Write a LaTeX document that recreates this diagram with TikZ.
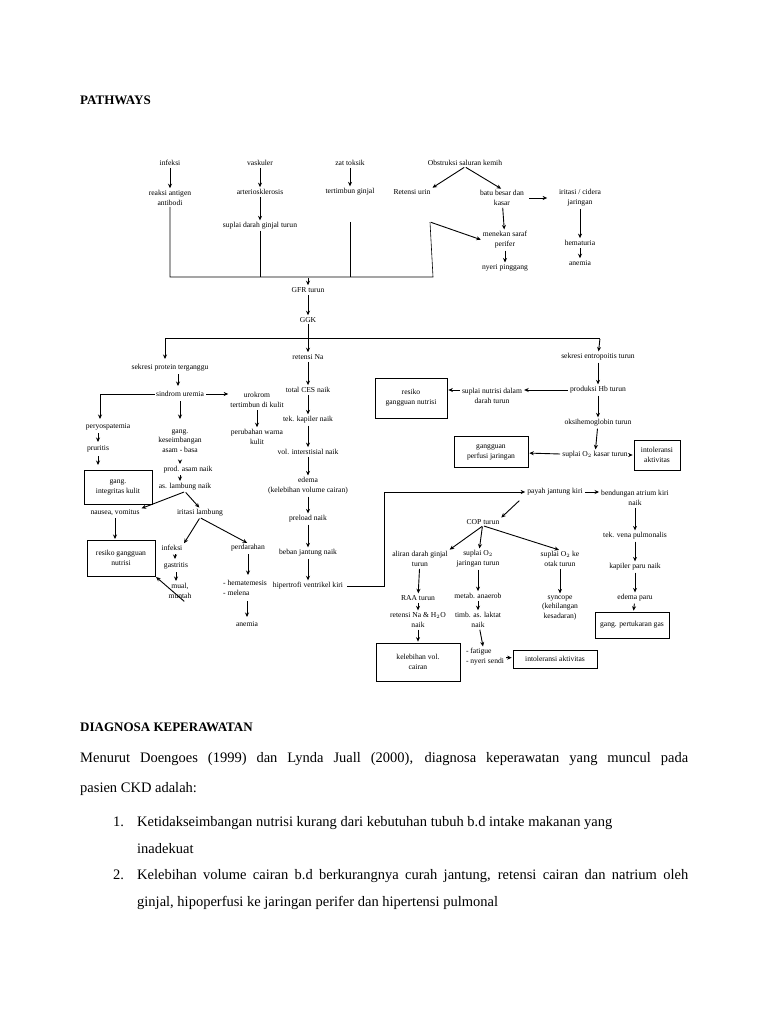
\documentclass[tikz,border=0pt]{standalone}
\usepackage{fontspec}
\setmainfont{Liberation Serif}
\usetikzlibrary{arrows.meta}
\begin{document}
\begin{tikzpicture}[x=1pt,y=-1pt,
 t/.style={font=\fontsize{7.6}{9.8}\selectfont, align=center, inner sep=1pt},
 bx/.style={t, draw, line width=0.7pt, inner sep=3pt},
 ar/.style={-{Stealth[length=4.5pt,width=4pt]}, line width=0.9pt, shorten >=1pt, shorten <=1pt},
 ln/.style={line width=0.6pt},
 body/.style={font=\fontsize{14.5}{30.5}\selectfont, inner sep=0pt, anchor=base west}]
\useasboundingbox (0,0) rectangle (768,1024);
\fill[white] (0,0) rectangle (768,1024);
\node[body,font=\fontsize{13}{15}\selectfont\bfseries] (ttl) at (80,105) {PATHWAYS};
% top row
\node[t] (inf) at (170,163) {infeksi};
\node[t] (vas) at (260,163) {vaskuler};
\node[t] (zat) at (350,163) {zat toksik};
\node[t] (obs) at (465,163) {Obstruksi saluran kemih};
\node[t] (rea) at (170,198) {reaksi antigen\\antibodi};
\node[t] (art) at (260,192) {arteriosklerosis};
\node[t] (ter) at (350,192) {tertimbun ginjal};
\node[t] (ret) at (412,192) {Retensi urin};
\node[t] (bat) at (502,198) {batu besar dan\\kasar};
\node[t] (iri) at (580,198) {iritasi / cidera\\jaringan};
\node[t] (sup) at (260,226) {suplai darah ginjal turun};
\node[t] (men) at (505,240) {menekan saraf\\perifer};
\node[t] (nye) at (505,268) {nyeri pinggang};
\node[t] (hem) at (580,243) {hematuria};
\node[t] (ane) at (580,263) {anemia};
\draw[ar] (inf) -- (rea); \draw[ar] (vas) -- (art); \draw[ar] (art) -- (sup);
\draw[ar] (zat) -- (ter);
\draw[ar] (obs.south) -- (ret.north east); \draw[ar] (obs.south) -- (bat.north);
\draw[ar] (bat.east) ++(3,0) -- +(20,0);
\draw[ar] (bat) -- (men); \draw[ar] (men) -- (nye);
\draw[ar] (iri) -- (hem); \draw[ar] (hem) -- (ane);
\coordinate (ra) at (430,222); \draw[ar] (ra) -- (men.west);
\coordinate (busL) at (170,277); \coordinate (busR) at (433,277); \coordinate (busM) at (308,277);
\draw[ln] (rea.south) -- (busL) -- (busR) -- (ra);
\draw[ln] (sup.south) -- (260,277);
\draw[ln] (350,222) -- (350,277);
\node[t] (gfr) at (308,290) {GFR turun};
\node[t] (ggk) at (308,320) {GGK};
\draw[ar] (busM) -- (gfr); \draw[ar] (gfr) -- (ggk);
\coordinate (b3) at (308,338);
\draw[ln] (ggk) -- (b3);
\draw[ln] (165,338) -- (600,338);
% left branch
\node[t] (sek) at (170,368) {sekresi protein terganggu};
\node[t] (sin) at (180,394) {sindrom uremia};
\node[t] (uro) at (257,400) {urokrom\\tertimbun di kulit};
\node[t] (per) at (257,437) {perubahan warna\\kulit};
\node[t] (pery) at (108,427) {peryospatemia};
\node[t] (pru) at (98,449) {pruritis};
\node[t] (kes) at (180,441) {gang.\\keseimbangan\\asam - basa};
\node[t] (pro) at (188,470) {prod. asam naik};
\node[t] (asl) at (185,487) {as. lambung naik};
\node[bx, minimum width=68pt, minimum height=34pt] (gik) at (118,487) {gang.\\integritas kulit};
\node[t] (nau) at (115,513) {nausea, vomitus};
\node[t] (irl) at (200,513) {iritasi lambung};
\node[bx, minimum width=68pt, minimum height=36pt] (rgn) at (121,558) {resiko gangguan\\nutrisi};
\node[t] (inf2) at (172,548) {infeksi};
\node[t] (gas) at (176,566) {gastritis};
\node[t] (mua) at (180,591) {mual,\\muntah};
\node[t] (prd) at (248,548) {perdarahan};
\node[t,align=left] (hmt) at (245,588) {- hematemesis\\- melena};
\node[t] (an2) at (247,624) {anemia};
\draw[ar] (165,338) -- (165,360);
\draw[ar] (178,373) -- (178,387); \draw[ar] (sin) -- (uro.west|-sin); \draw[ar] (uro) -- (per);
\draw[ln] (sin.west) -- (100,394); \draw[ar] (100,394) -- (100,420);
\draw[ar] (98,432) -- (98,443); \draw[ar] (98,455) -- (98,466);
\draw[ar] (180,400) -- (180,420); \draw[ar] (180,460) -- (180,465); \draw[ar] (180,474) -- (180,482);
\draw[ar] (asl.south) -- (nau.north east); \draw[ar] (asl.south) -- (irl.north);
\draw[ar] (nau) -- (115,540);
\draw[ar] (irl.south) -- (inf2.north east); \draw[ar] (irl.south) -- (prd.north);
\draw[ar] (175,553) -- (175,560); \draw[ar] (176,571) -- (176,582);
\draw[ar] (248,553) -- (248,576); \draw[ar] (247,600) -- (247,618);
\coordinate (mu) at (185,602); \draw[ar] (mu) -- (rgn.south east);
% middle branch
\node[t] (rna) at (308,357) {retensi Na};
\node[t] (ces) at (308,390) {total CES naik};
\node[t] (tek) at (308,420) {tek. kapiler naik};
\node[t] (vol) at (308,452) {vol. interstisial naik};
\node[t] (ede) at (308,486) {edema\\(kelebihan volume cairan)};
\node[t] (pre) at (308,519) {preload naik};
\node[t] (beb) at (308,553) {beban jantung naik};
\node[t] (hip) at (308,586) {hipertrofi ventrikel kiri};
\draw[ar] (b3) -- (rna); \draw[ar] (rna) -- (ces); \draw[ar] (ces) -- (tek);
\draw[ar] (tek) -- (vol); \draw[ar] (vol) -- (ede); \draw[ar] (ede) -- (pre);
\draw[ar] (pre) -- (beb); \draw[ar] (beb) -- (hip);
\node[t] (pay) at (555,492) {payah jantung kiri};
\node[t] (ben) at (635,498) {bendungan atrium kiri\\naik};
\draw[ln] (hip.east) ++(3,0) -- (384,586) -- (384,492);
\draw[ar] (384,492) -- (pay.west);
\draw[ar] (pay) -- (ben.west|-pay);
\node[t] (tvp) at (635,536) {tek. vena pulmonalis};
\node[t] (kpn) at (635,567) {kapiler paru naik};
\node[t] (edp) at (635,598) {edema paru};
\node[bx, minimum width=74pt, minimum height=26pt] (gpg) at (632,625) {gang. pertukaran gas};
\draw[ar] (ben) -- (tvp); \draw[ar] (tvp) -- (kpn); \draw[ar] (kpn) -- (edp); \draw[ar] (edp) -- (gpg);
\node[t] (cop) at (483,522) {COP turun};
\draw[ar] (520,500) -- (cop.north east);
\node[t] (adg) at (420,559) {aliran darah ginjal\\turun};
\node[t] (soj) at (478,559) {suplai O$_2$\\jaringan turun};
\node[t] (sok) at (560,559) {suplai O$_2$ ke\\otak turun};
\draw[ar] (cop.south) -- (adg.north east); \draw[ar] (cop) -- (soj); \draw[ar] (cop.south) -- (sok.north);
\node[t] (raa) at (418,598) {RAA turun};
\node[t] (rnh) at (418,620) {retensi Na \& H$_2$O\\naik};
\node[t] (mta) at (478,596) {metab. anaerob};
\node[t] (tal) at (478,620) {timb. as. laktat\\naik};
\node[t] (syn) at (560,608) {syncope\\(kehilangan\\kesadaran)};
\draw[ar] (adg) -- (raa); \draw[ar] (raa) -- (rnh); \draw[ar] (soj) -- (mta); \draw[ar] (mta) -- (tal);
\draw[ar] (sok) -- (syn);
\node[bx, minimum width=84pt, minimum height=38pt] (kvc) at (418,662) {kelebihan vol.\\cairan};
\node[t,align=left] (fat) at (485,657) {- fatigue\\- nyeri sendi};
\node[bx, minimum width=84pt, minimum height=18pt] (ina) at (555,659) {intoleransi aktivitas};
\draw[ar] (rnh) -- (kvc); \draw[ar] (tal) -- (fat); \draw[ar] (fat) -- (ina);
% right branch
\node[t] (sen) at (598,357) {sekresi entropoitis turun};
\node[t] (phb) at (598,390) {produksi Hb turun};
\node[t] (snd) at (492,396) {suplai nutrisi dalam\\darah turun};
\node[bx, minimum width=72pt, minimum height=40pt] (rg2) at (411,398) {resiko\\gangguan nutrisi};
\node[t] (oks) at (598,423) {oksihemoglobin turun};
\node[t] (sok2) at (595,455) {suplai O$_2$ kasar turun};
\node[bx, minimum width=74pt, minimum height=31pt] (gpj) at (491,452) {gangguan\\perfusi jaringan};
\node[bx, minimum width=46pt, minimum height=30pt] (ia2) at (657,455) {intoleransi\\aktivitas};
\draw[ar] (600,338) -- (sen); \draw[ar] (sen) -- (phb); \draw[ar] (phb) -- (snd.east|-phb);
\draw[ar] (snd.west|-phb) -- (rg2.east|-phb);
\draw[ar] (phb) -- (oks); \draw[ar] (oks) -- (sok2);
\draw[ar] (sok2) -- (gpj); \draw[ar] (sok2) -- (ia2);
% text below
\node[body,font=\fontsize{13}{15}\selectfont\bfseries] (dk) at (80,731) {DIAGNOSA KEPERAWATAN};
\node[body] (p1) at (80,762) {\makebox[608pt][s]{Menurut Doengoes (1999) dan Lynda Juall (2000), diagnosa keperawatan yang muncul pada}};
\node[body] (p2) at (80,792) {pasien CKD adalah:};
\node[body] (n1) at (113,826) {1.};
\node[body] (i1) at (137,826) {Ketidakseimbangan nutrisi kurang dari kebutuhan tubuh b.d intake makanan yang};
\node[body] (i1b) at (137,853) {inadekuat};
\node[body] (n2) at (113,879) {2.};
\node[body] (i2) at (137,879) {\makebox[551pt][s]{Kelebihan volume cairan b.d berkurangnya curah jantung, retensi cairan dan natrium oleh}};
\node[body] (i2b) at (137,906) {ginjal, hipoperfusi ke jaringan perifer dan hipertensi pulmonal};
\end{tikzpicture}
\end{document}
